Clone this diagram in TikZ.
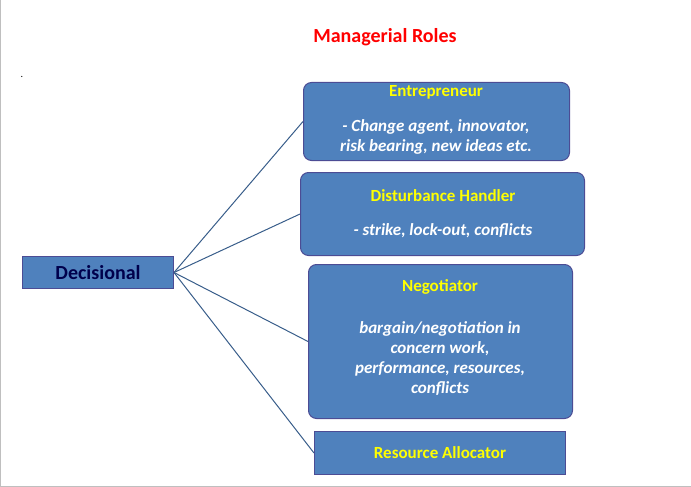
\documentclass[tikz,border=0pt]{standalone}
\usepackage{fontspec}
\setmainfont{Carlito}
\begin{document}
\begin{tikzpicture}[x=1pt,y=-1pt,
  box/.style={draw=blue!40!black!70,fill={rgb,255:red,79;green,129;blue,189},line width=1pt,rounded corners=8pt,align=center,anchor=north west,inner sep=0pt},
  hd/.style={text={rgb,255:red,255;green,255;blue,0},font=\bfseries\fontsize{17}{20}\selectfont},
  bd/.style={text=white,font=\bfseries\itshape\fontsize{17}{20}\selectfont},
  ln/.style={draw={rgb,255:red,56;green,93;blue,138},line width=1pt}]
\useasboundingbox (0,0) rectangle (691,487);
\draw[gray!50] (0.5,0) -- (0.5,486.5) -- (691,486.5);
\node (title) at (385,37) {\textcolor{red}{\bfseries\fontsize{20}{24}\selectfont Managerial Roles}};
\node (dot) at (22,77) {.};
\node[box,rounded corners=0pt,minimum width=151pt,minimum height=32pt] (dec) at (22,256) {};
\node at (dec.center) {\textcolor{blue!30!black}{\bfseries\fontsize{20}{24}\selectfont Decisional}};
\node[box,minimum width=266pt,minimum height=78pt] (ent) at (303,82) {};
\node[hd] at (436,92) {Entrepreneur};
\node[bd,align=center] at (436,137) {- Change agent, innovator,\\risk bearing, new ideas etc.};
\node[box,minimum width=284pt,minimum height=83pt] (dis) at (300,172) {};
\node[hd] at (443,196) {Disturbance Handler};
\node[bd] at (443,231) {- strike, lock-out, conflicts};
\node[box,minimum width=264pt,minimum height=154pt] (neg) at (308,264) {};
\node[hd] at (440,287) {Negotiator};
\node[bd,align=center] at (440,359) {bargain/negotiation in\\concern work,\\performance, resources,\\conflicts};
\node[box,rounded corners=0pt,minimum width=251pt,minimum height=43pt] (res) at (314,431) {};
\node[hd] at (res.center) {Resource Allocator};
\draw[ln] (dec.east) -- (ent.west);
\draw[ln] (dec.east) -- (dis.west);
\draw[ln] (dec.east) -- (neg.west);
\draw[ln] (dec.east) -- (res.west);
\end{tikzpicture}
\end{document}
